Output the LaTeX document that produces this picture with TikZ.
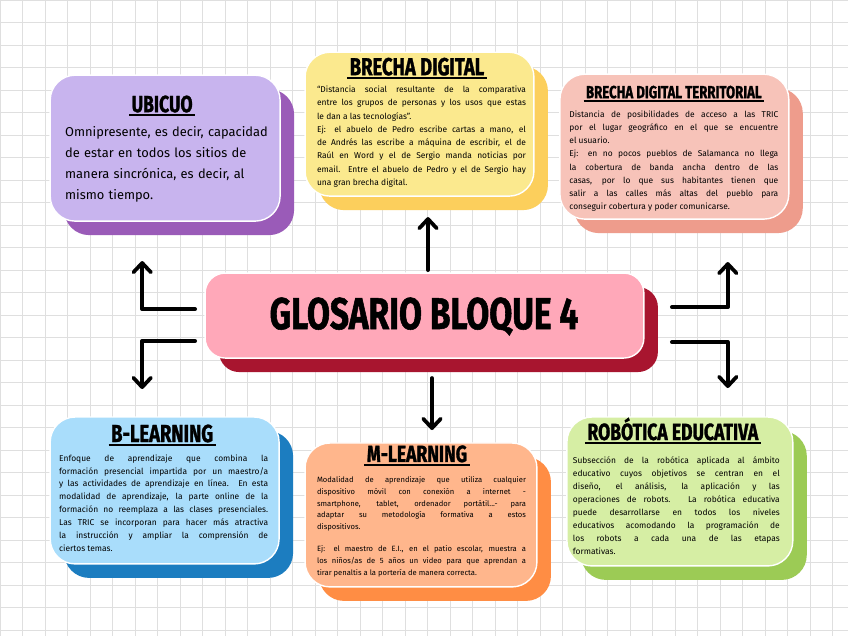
\documentclass[tikz,border=0pt]{standalone}
\usepackage{fontspec}
\setmainfont{Fira Sans}
\newfontfamily\ttlfont[FakeStretch=0.75, FakeBold=1.2]{Fira Sans}
\usetikzlibrary{shadows, arrows.meta}
\definecolor{ubl}{HTML}{C8B4EE}
\definecolor{ubd}{HTML}{9A5BB8}
\definecolor{bdl}{HTML}{FBE98E}
\definecolor{bdd}{HTML}{FCCF5C}
\definecolor{btl}{HTML}{F7C3B9}
\definecolor{btd}{HTML}{EE9C8C}
\definecolor{gll}{HTML}{FFA8B9}
\definecolor{gld}{HTML}{A8152F}
\definecolor{bll}{HTML}{A9DDFB}
\definecolor{bld}{HTML}{1C7DC0}
\definecolor{mll}{HTML}{FFB68C}
\definecolor{mld}{HTML}{FF8D44}
\definecolor{rbl}{HTML}{D6EEA4}
\definecolor{rbd}{HTML}{9CCB55}
\tikzset{box/.style={draw=white, line width=1.2pt, rounded corners=0.75cm, inner sep=0pt,
                     drop shadow={shadow xshift=0.42cm, shadow yshift=-0.42cm, opacity=1, draw=none, fill=#1}},
         ttl/.style={font=\ttlfont\bfseries\fontsize{#1}{#1}\selectfont, anchor=base, inner sep=2pt},
         txt/.style={align=justify, inner sep=0pt, text width=6.27cm},
         uline/.style={line width=1.6pt},
         arr/.style={line width=3.2pt, line cap=round, line join=round, -{Straight Barb[round, length=8pt, width=15pt]}},
         gridline/.style={gray!25, line width=0.4pt},
        }

\begin{document}
\begin{tikzpicture}[x=0.03cm, y=-0.03cm]
        \fill[white](0,0)rectangle(848,636);
        \draw[gridline, step=0.675cm](0,636)grid(848,0);
        \useasboundingbox(0,0)rectangle(848,636);

        \node[box=ubd, fill=ubl, minimum width=6.9cm, minimum height=4.38cm](ubicuo)at(165,148){};
        \node[box=bdd, fill=bdl, minimum width=6.87cm, minimum height=4.32cm](brecha)at(419.5,124){};
        \node[box=btd, fill=btl, minimum width=6.87cm, minimum height=4.35cm](territ)at(674.5,146.5){};
        \node[box=gld, fill=gll, rounded corners=0.6cm, minimum width=13.17cm, minimum height=2.55cm](glosario)at(424.5,315.5){};
        \node[box=bld, fill=bll, minimum width=6.87cm, minimum height=4.41cm](blearn)at(164.5,490.5){};
        \node[box=mld, fill=mll, minimum width=6.96cm, minimum height=4.32cm](mlearn)at(421,515){};
        \node[box=rbd, fill=rbl, minimum width=6.78cm, minimum height=4.47cm](robot)at(680,491.5){};

        \node[ttl=38, inner sep=0pt](tgl)at(424,329){GLOSARIO BLOQUE 4};

        \node[ttl=20](tub)at(162,112){UBICUO};
        \node[ttl=21](tbd)at(417,75){BRECHA DIGITAL};
        \node[ttl=15](tbt)at(674,98){BRECHA DIGITAL TERRITORIAL};
        \node[ttl=21](tbl)at(162,442){B-LEARNING};
        \node[ttl=20](tml)at(417,462){M-LEARNING};
        \node[ttl=20](trb)at(673,440){ROBÓTICA EDUCATIVA};
        \draw[uline](tub.south west)--(tub.south east);
        \draw[uline](tbd.south west)--(tbd.south east);
        \draw[uline](tbt.south west)--(tbt.south east);
        \draw[uline](tbl.south west)--(tbl.south east);
        \draw[uline](tml.south west)--(tml.south east);
        \draw[uline](trb.south west)--(trb.south east);

        \node[txt, align=left, text width=6.21cm, font=\fontsize{11}{18}\selectfont](xub)at(168.5,164){Omnipresente, es decir, capacidad\\ de estar en todos los sitios de\\ manera sincrónica, es decir, al\\ mismo tiempo.};
        \node[txt, font=\fontsize{7.2}{11.35}\selectfont](xbd)at(421.5,136.5){“Distancia social resultante de la comparativa\linebreak entre los grupos de personas y los usos que estas\linebreak le dan a las tecnologías”.\\ Ej: el abuelo de Pedro escribe cartas a mano, el\linebreak de Andrés las escribe a máquina de escribir, el de\linebreak Raúl en Word y el de Sergio manda noticias por\linebreak email. Entre el abuelo de Pedro y el de Sergio hay\linebreak una gran brecha digital.};
        \node[txt, font=\fontsize{7.2}{11.2}\selectfont](xbt)at(674,161){Distancia de posibilidades de acceso a las TRIC\linebreak por el lugar geográfico en el que se encuentre\linebreak el usuario.\\ Ej: en no pocos pueblos de Salamanca no llega\linebreak la cobertura de banda ancha dentro de las\linebreak casas, por lo que sus habitantes tienen que\linebreak salir a las calles más altas del pueblo para\linebreak conseguir cobertura y poder comunicarse.};
        \node[txt, font=\fontsize{7.2}{11}\selectfont](xbl)at(163.5,503){Enfoque de aprendizaje que combina la\linebreak formación presencial impartida por un maestro/a\linebreak y las actividades de aprendizaje en línea. En esta\linebreak modalidad de aprendizaje, la parte online de la\linebreak formación no reemplaza a las clases presenciales.\linebreak Las TRIC se incorporan para hacer más atractiva\linebreak la instrucción y ampliar la comprensión de\linebreak ciertos temas.};
        \node[txt, font=\fontsize{6.5}{10}\selectfont](xml)at(421.5,527){Modalidad de aprendizaje que utiliza cualquier\linebreak dispositivo móvil con conexión a internet -\linebreak smartphone, tablet, ordenador portátil...- para\linebreak adaptar su metodología formativa a estos\linebreak dispositivos.\\[9pt] Ej: el maestro de E.I., en el patio escolar, muestra a\linebreak los niños/as de 5 años un video para que aprendan a\linebreak tirar penaltis a la portería de manera correcta.};
        \node[txt, text width=6.21cm, font=\fontsize{7.2}{11.1}\selectfont](xrb)at(676.5,505.5){Subsección de la robótica aplicada al ámbito\linebreak educativo cuyos objetivos se centran en el\linebreak diseño, el análisis, la aplicación y las\linebreak operaciones de robots. La robótica educativa\linebreak puede desarrollarse en todos los niveles\linebreak educativos acomodando la programación de\linebreak los robots a cada una de las etapas\linebreak formativas.};

        \coordinate(tn1)at(428,270);
        \coordinate(tn2)at(428,217);
        \coordinate(bs1)at(432,378);
        \coordinate(bs2)at(432,430);
        \coordinate(lu1)at(195,309);
        \coordinate(lu2)at(142,261);
        \coordinate(ll1)at(195,341);
        \coordinate(ll2)at(142,389);
        \coordinate(ru1)at(672,307);
        \coordinate(ru2)at(728,262);
        \coordinate(rl1)at(672,342);
        \coordinate(rl2)at(728,388);
        \draw[arr](tn1)--(tn2);
        \draw[arr](bs1)--(bs2);
        \draw[arr](lu1)-|(lu2);
        \draw[arr](ll1)-|(ll2);
        \draw[arr](ru1)-|(ru2);
        \draw[arr](rl1)-|(rl2);
    \end{tikzpicture}
\end{document}
